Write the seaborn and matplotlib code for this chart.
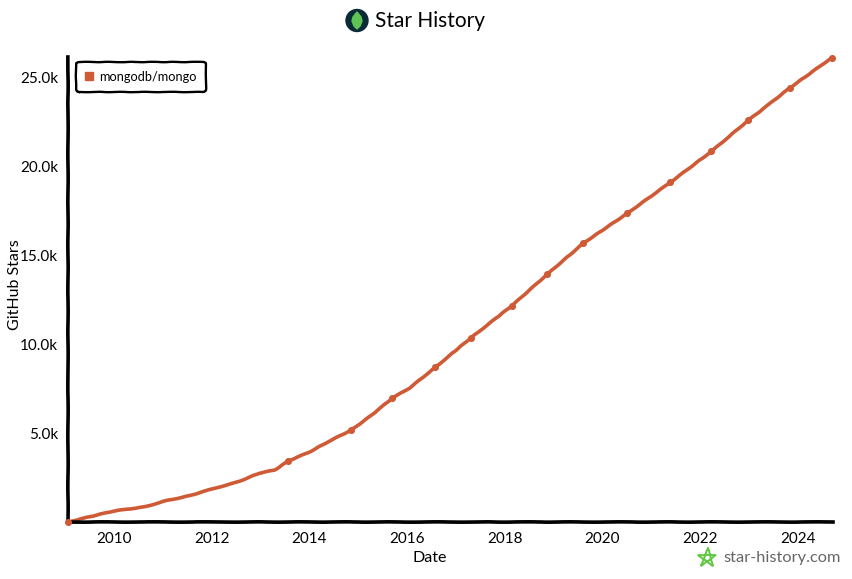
import matplotlib
matplotlib.use("Agg")
import matplotlib.pyplot as plt
from matplotlib.patches import Circle, Polygon
from matplotlib.lines import Line2D
import seaborn as sns
import pandas as pd

# decimal years and star counts
years = [2009.06, 2009.51, 2010.0, 2010.63, 2011.04, 2011.55, 2012.0, 2012.53,
         2012.98, 2013.29, 2013.57, 2014.0, 2014.41, 2014.86, 2015.27, 2015.7,
         2016.05, 2016.58, 2017.3, 2018.14, 2018.87, 2019.61, 2020.51, 2021.39,
         2022.23, 2022.99, 2023.25, 2023.83, 2024.69]
stars = [0, 300, 620, 850, 1180, 1480, 1850, 2250, 2750, 2920, 3430, 3930,
         4550, 5170, 6000, 6970, 7530, 8700, 10340, 12150, 13930, 15680,
         17360, 19100, 20840, 22600, 23150, 24400, 26100]
# only some of the samples carry a visible dot
marked_years = [2009.06, 2013.57, 2014.86, 2015.7, 2016.58, 2017.3, 2018.14, 2018.87,
                2019.61, 2020.51, 2021.39, 2022.23, 2022.99, 2023.83, 2024.69]
marked_stars = [0, 3430, 5170, 6970, 8700, 10340, 12150, 13930,
                15680, 17360, 19100, 20840, 22600, 24400, 26100]
x_ticks = [2010, 2012, 2014, 2016, 2018, 2020, 2022, 2024]
y_ticks = [5000, 10000, 15000, 20000, 25000]
y_labels = ["5.0k", "10.0k", "15.0k", "20.0k", "25.0k"]
repo = "mongodb/mongo"

RED = "#cf5a36"

sns.set_theme(style="white")
plt.rcParams["font.family"] = ["Lato", "DejaVu Sans"]

df = pd.DataFrame({"Date": years, "GitHub Stars": stars})
marks = pd.DataFrame({"Date": marked_years, "GitHub Stars": marked_stars})

fig = plt.figure(figsize=(8.52, 5.79), dpi=100)
ax = fig.add_axes([68 / 852, 1 - 522 / 579, (833 - 68) / 852, (522 - 57) / 579])

line = sns.lineplot(data=df, x="Date", y="GitHub Stars", color=RED, linewidth=2.6, ax=ax)
line.lines[0].set_sketch_params(0.2, 25, 3)
sns.scatterplot(data=marks, x="Date", y="GitHub Stars", color=RED, s=26, linewidth=0,
                clip_on=False, zorder=5, ax=ax)

ax.set_xlim(2009.06, 2024.72)
ax.set_ylim(0, 26150)
ax.set_xticks(x_ticks)
ax.set_yticks(y_ticks)
ax.set_yticklabels(y_labels)
ax.tick_params(length=0, labelsize=11, colors="black", pad=7)
ax.set_xlabel("Date", fontsize=11.5, color="black")
ax.set_ylabel("GitHub Stars", fontsize=11.5, color="black")
ax.xaxis.set_label_coords(0.473, -0.063)
ax.yaxis.set_label_coords(-0.06, 0.51)

sns.despine(ax=ax)
for side in ["left", "bottom"]:
    ax.spines[side].set_linewidth(2.6)
    ax.spines[side].set_color("black")
    ax.spines[side].set_sketch_params(0.15, 60, 3)

# hand drawn legend box
handle = Line2D([], [], marker="s", linestyle="none", color=RED, markersize=5.5)
leg = ax.legend([handle], [repo], loc="upper left", bbox_to_anchor=(0.011, 0.99), fontsize=9.2,
                frameon=True, fancybox=True, framealpha=1, edgecolor="black",
                handlelength=0.6, handletextpad=0.45, borderpad=0.72, borderaxespad=0)
leg.get_frame().set_linewidth(1.7)
leg.get_frame().set_sketch_params(0.2, 30, 3)
for t in leg.get_texts():
    t.set_color("black")

# overlay in pixel coordinates for the header logo and the watermark
over = fig.add_axes([0, 0, 1, 1])
over.set_xlim(0, 852)
over.set_ylim(579, 0)
over.axis("off")
over.patch.set_alpha(0)

over.add_patch(Circle((357, 20.5), 11, color="#0b2a38"))
over.add_patch(Polygon([(357, 12), (361, 17), (362, 21), (360, 26), (357, 29),
                        (354, 26), (352, 21), (353, 17)], closed=True, color="#5fc454"))
over.text(375, 21, "Star History", fontsize=15, color="black", va="center", ha="left")

star = Polygon([(708, 548), (701, 566), (716, 555), (698, 555), (713, 566)], closed=True,
               fill=False, edgecolor="#62c843", linewidth=1.4)
star.set_sketch_params(0.2, 15, 2)
over.add_patch(star)
over.text(723, 558, "star-history.com", fontsize=11.8, color="#666666", va="center", ha="left")

fig.savefig("out.png", dpi=100)
